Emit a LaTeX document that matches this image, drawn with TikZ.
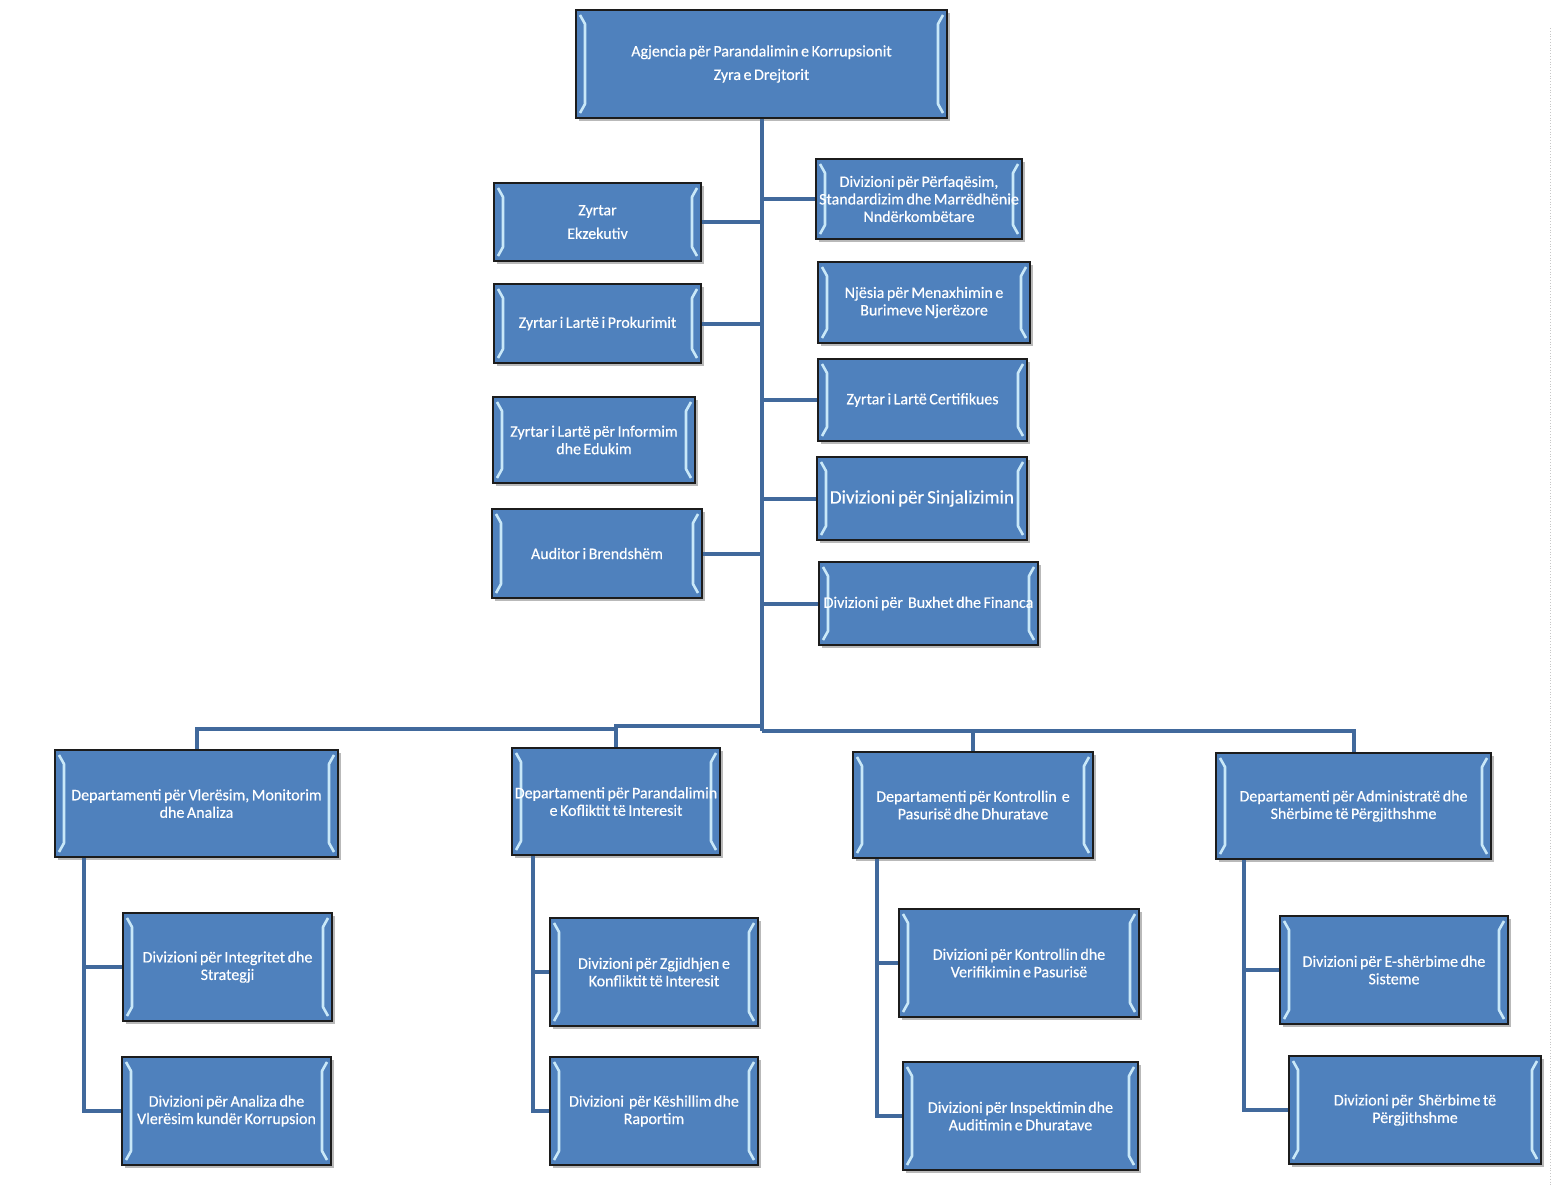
\documentclass[tikz,border=0pt]{standalone}
\usepackage{fontspec}
\setmainfont{Carlito}[WordSpace=0.7, FakeBold=0.4]
\usetikzlibrary{shadows}
\definecolor{boxblue}{HTML}{4F81BD}
\definecolor{boxedge}{HTML}{1C1C1C}
\definecolor{bevelc}{HTML}{C9E8F8}
\definecolor{connc}{HTML}{41699C}
\tikzset{
  obox/.style={draw=boxedge, line width=1.6pt, fill=boxblue, text=white,
    align=center, inner sep=0pt, font=\fontsize{16}{17.5}\selectfont,
    drop shadow={shadow xshift=2.5pt, shadow yshift=-2.5pt, fill=black!50, opacity=.55},
    path picture={
      \draw[bevelline] ([shift={(4pt,-5pt)}]path picture bounding box.north west) -- ++(5pt,-9pt)
        -- ([shift={(9pt,14pt)}]path picture bounding box.south west) -- ++(-5pt,-9pt);
      \draw[bevelline] ([shift={(-4pt,-5pt)}]path picture bounding box.north east) -- ++(-5pt,-9pt)
        -- ([shift={(-9pt,14pt)}]path picture bounding box.south east) -- ++(5pt,-9pt);
    }},
  bevelline/.style={draw=bevelc, line width=2.6pt, line join=round},
  conn/.style={draw=connc, line width=4pt, line join=miter},
  bigtext/.style={font=\fontsize{19}{21}\selectfont}
}
\newcommand\obox[7][]{\node[obox,#1,minimum width={#4pt-#2pt},minimum height={#5pt-#3pt}] (#6) at ({(#2+#4)/2},{(#3+#5)/2}) {#7};}
\begin{document}
\begin{tikzpicture}[x=1pt,y=-1pt]
\useasboundingbox[fill=white] (0,0) rectangle (1554,1186);
\draw[black!22, dotted, line width=0.8pt] (1550,28) -- (1550,1186);

% top
\obox{576}{10}{947}{118}{top}{Agjencia për Parandalimin e Korrupsionit\\[6pt]Zyra e Drejtorit}
% left column
\obox{494}{183}{701}{261}{ze}{Zyrtar\\[6pt]Ekzekutiv}
\obox{494}{284}{701}{363}{zp}{Zyrtar i Lartë i Prokurimit}
\obox{493}{397}{695}{483}{zi}{Zyrtar i Lartë për Informim\\dhe Edukim}
\obox{492}{509}{702}{598}{ab}{Auditor i Brendshëm}
% right column
\obox{816}{159}{1022}{239}{dp}{Divizioni për Përfaqësim,\\Standardizim dhe Marrëdhënie\\Nndërkombëtare}
\obox{818}{262}{1030}{343}{nj}{Njësia për Menaxhimin e\\Burimeve Njerëzore}
\obox{818}{359}{1027}{441}{zc}{Zyrtar i Lartë Certifikues}
\obox[bigtext]{817}{457}{1027}{540}{ds}{Divizioni për Sinjalizimin}
\obox{819}{562}{1038}{645}{db}{Divizioni për\ \ Buxhet dhe Financa}
% departments
\obox{55}{750}{338}{857}{d1}{Departamenti për Vlerësim, Monitorim\\dhe Analiza}
\obox{512}{748}{720}{855}{d2}{Departamenti për Parandalimin\\e Kofliktit të Interesit}
\obox{853}{752}{1093}{858}{d3}{Departamenti për Kontrollin\ \ e\\Pasurisë dhe Dhuratave}
\obox{1216}{753}{1491}{859}{d4}{Departamenti për Administratë dhe\\Shërbime të Përgjithshme}
% divisions
\obox{123}{913}{332}{1021}{s11}{Divizioni për Integritet dhe\\Strategji}
\obox{122}{1057}{331}{1165}{s12}{Divizioni për Analiza dhe\\Vlerësim kundër Korrupsion}
\obox{550}{918}{758}{1026}{s21}{Divizioni për Zgjidhjen e\\Konfliktit të Interesit}
\obox{550}{1057}{758}{1165}{s22}{Divizioni\ \ për Këshillim dhe\\Raportim}
\obox{899}{909}{1139}{1017}{s31}{Divizioni për Kontrollin dhe\\Verifikimin e Pasurisë}
\obox{903}{1062}{1138}{1170}{s32}{Divizioni për Inspektimin dhe\\Auditimin e Dhuratave}
\obox{1280}{916}{1508}{1024}{s41}{Divizioni për E-shërbime dhe\\Sisteme}
\obox{1289}{1056}{1541}{1164}{s42}{Divizioni për\ \ Shërbime të\\Përgjithshme}

% trunk and bus
\coordinate (jt) at (761.5,731);
\draw[conn] (top.south) -- (top.south |- jt);
\draw[conn] (ze.east) -- (ze.east -| jt);
\draw[conn] (zp.east) -- (zp.east -| jt);
\draw[conn] (ab.east) -- (ab.east -| jt);
\draw[conn] (dp.west) -- (dp.west -| jt);
\draw[conn] (zc.west) -- (zc.west -| jt);
\draw[conn] (ds.west) -- (ds.west -| jt);
\draw[conn] (db.west) -- (db.west -| jt);
\draw[conn] (d1.north) |- (d2.north |- 0,729) -- (d2.north);
\draw[conn] (d2.north) |- (jt |- 0,726);
\draw[conn] (jt) -| (d3.north);
\draw[conn] (d3.north |- jt) -| (d4.north);
% department branches
\coordinate (v1) at (84,0);
\coordinate (v2) at (533,0);
\coordinate (v3) at (877,0);
\coordinate (v4) at (1244,0);
\draw[conn] (d1.south -| v1) |- (s12.west);
\draw[conn] (s11.west) -- (s11.west -| v1);
\draw[conn] (d2.south -| v2) |- (s22.west);
\draw[conn] (s21.west) -- (s21.west -| v2);
\draw[conn] (d3.south -| v3) |- (s32.west);
\draw[conn] (s31.west) -- (s31.west -| v3);
\draw[conn] (d4.south -| v4) |- (s42.west);
\draw[conn] (s41.west) -- (s41.west -| v4);
\end{tikzpicture}
\end{document}
